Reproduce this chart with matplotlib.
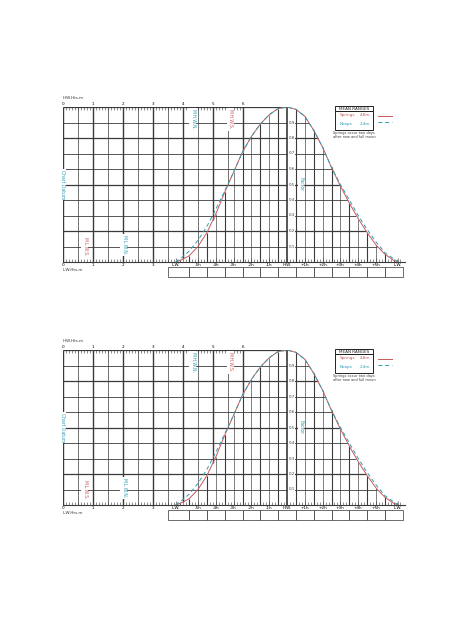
import matplotlib.pyplot as plt
import numpy as np
from matplotlib.patches import Rectangle

# tidal curve: factor of range against hours from high water
spring_t = [-6.25, -6, -5.5, -5, -4.5, -4, -3.5, -3, -2.5, -2, -1.5, -1, -0.5, 0,
            0.5, 1, 1.5, 2, 2.5, 3, 3.5, 4, 4.5, 5, 5.5, 6, 6.25]
spring_f = [0, 0.01, 0.04, 0.10, 0.19, 0.31, 0.45, 0.58, 0.71, 0.81, 0.89, 0.95, 0.99, 1.0,
            0.985, 0.94, 0.85, 0.74, 0.61, 0.49, 0.38, 0.28, 0.19, 0.11, 0.05, 0.01, 0]
neap_t = spring_t
neap_f = [0, 0.02, 0.07, 0.14, 0.23, 0.34, 0.46, 0.58, 0.71, 0.81, 0.89, 0.95, 0.99, 1.0,
          0.985, 0.94, 0.85, 0.74, 0.61, 0.50, 0.40, 0.30, 0.21, 0.13, 0.06, 0.02, 0]

hw_ticks = [0, 1, 2, 3, 4, 5, 6]
lw_ticks = [0, 1, 2, 3]
time_ticks = [-6.25, -5, -4, -3, -2, -1, 0, 1, 2, 3, 4, 5, 6.25]
time_labels = ['L.W.', '-5h', '-4h', '-3h', '-2h', '-1h', 'H.W.',
               '+1h', '+2h', '+3h', '+4h', '+5h', 'L.W.']
factor_levels = [0.1, 0.2, 0.3, 0.4, 0.5, 0.6, 0.7, 0.8, 0.9]
box_edges = [-6.7, -5.5, -4.5, -3.5, -2.5, -1.5, -0.5, 0.5, 1.5, 2.5, 3.5, 4.5, 5.5, 6.5]
range_names = ['Springs', 'Neaps']
range_values = ['4.8m', '2.4m']
mhws, mhwn = 5.57, 4.32
mlws, mlwn = 0.73, 2.03

W, H = 474, 632
X_MAX = 11.4          # metres shown across the frame
HW_M = 7.467          # where H.W. sits on the metre scale
M_PER_H = 0.5933      # metres of scale per hour

RED = '#c95b5b'
TEAL = '#2e9db3'
GRID = '#3a3a3a'
FS = 3


def h2m(t):
    return HW_M + M_PER_H * np.asarray(t)


def m2h(m):
    return (np.asarray(m) - HW_M) / M_PER_H


def draw_panel(fig, bottom_px):
    ax = fig.add_axes([63 / W, 1 - bottom_px / H, 342 / W, 155 / H])
    ax.set_xlim(0, X_MAX)
    ax.set_ylim(0, 1)
    ax.set_yticks([])
    for s in ['top', 'left', 'right']:
        ax.spines[s].set_visible(False)
    ax.spines['bottom'].set_linewidth(0.8)
    ax.spines['bottom'].set_color(GRID)

    ax_t = ax.twiny()
    ax_t.set_xlim(m2h(0), m2h(X_MAX))
    for s in ax_t.spines.values():
        s.set_visible(False)
    ax_t.xaxis.set_ticks_position('bottom')
    ax_t.xaxis.set_label_position('bottom')

    # L.W. heights scale (bottom left)
    ax.set_xticks(lw_ticks, [str(v) for v in lw_ticks])
    ax.set_xticks(np.arange(0, 3.65, 0.1), minor=True)
    ax.tick_params(axis='x', which='both', direction='in', labelsize=FS, pad=0.6,
                   color=GRID, width=0.4)
    ax.tick_params(axis='x', which='major', length=3.5)
    ax.tick_params(axis='x', which='minor', length=2)

    # time scale (bottom right)
    ax_t.set_xticks(time_ticks, time_labels)
    ax_t.set_xticks(np.arange(-38, 39) / 6.0, minor=True)
    ax_t.tick_params(axis='x', which='both', direction='in', labelsize=FS, pad=0.6,
                     color=GRID, width=0.4)
    ax_t.tick_params(axis='x', which='major', length=3)
    ax_t.tick_params(axis='x', which='minor', length=2)

    # H.W. heights scale (top)
    sec = ax.secondary_xaxis('top')
    sec.set_xticks(hw_ticks, [str(v) for v in hw_ticks])
    sec.set_xticks(np.arange(0, 6.01, 0.1), minor=True)
    sec.tick_params(axis='x', which='both', direction='in', labelsize=FS, pad=0.8,
                    color=GRID, width=0.4)
    sec.tick_params(axis='x', which='major', length=3.5)
    sec.tick_params(axis='x', which='minor', length=2)
    for s in sec.spines.values():
        s.set_visible(False)

    rise_t = np.array(spring_t[:14])
    rise_f = np.array(spring_f[:14])
    fall_t = np.array(spring_t[13:])[::-1]
    fall_f = np.array(spring_f[13:])[::-1]

    # height grid, stopped by the rising curve
    for m in np.arange(0, 6.01, 0.5):
        f0 = np.interp(m2h(m), rise_t, rise_f)
        major = float(m).is_integer()
        ax.vlines(m, f0, 1, color=GRID, lw=1.0 if major else 0.5, zorder=1)

    # factor lines, stopped by the falling curve
    for f in factor_levels + [1.0]:
        x_end = h2m(np.interp(f, fall_f, fall_t))
        strong = round(f * 10) in (2, 5, 8, 10)
        ax.hlines(f, 0, x_end, color=GRID, lw=0.9 if strong else 0.6, zorder=1)

    # half-hour lines under the curve
    for t in np.arange(-6, 6.01, 0.5):
        if t == 0:
            continue
        ftop = np.interp(t, spring_t, spring_f)
        on_hour = float(t).is_integer()
        ax_t.vlines(t, 0, ftop, color=GRID, lw=0.45 if on_hour else 0.8, zorder=1)
    ax_t.vlines(0, 0, 1, color=GRID, lw=1.2, zorder=1)

    # the curves
    sp, = ax_t.plot(spring_t, spring_f, color=RED, lw=0.7, zorder=3)
    np_, = ax_t.plot(neap_t, neap_f, color=TEAL, lw=0.7, ls=(0, (4, 3)), zorder=3)

    # boxes for writing times
    for a, b in zip(box_edges[:-1], box_edges[1:]):
        ax_t.add_patch(Rectangle((a, -0.097), b - a, 0.065, fill=False, ec='#555555',
                                 lw=0.6, clip_on=False))

    # factor labels along H.W.
    for f in factor_levels:
        ax_t.text(0.1, f, f'{f:.1f}', fontsize=2.8, color=GRID, ha='left', va='center',
                  bbox=dict(boxstyle='square,pad=0.1', fc='white', ec='none'), zorder=4)
    ax_t.text(0.8, 0.5, 'Factor', fontsize=3.3, color=TEAL, rotation=-90,
              ha='center', va='center', zorder=4,
              bbox=dict(boxstyle='square,pad=0.1', fc='white', ec='none'))

    lab = dict(fontsize=3.3, rotation=-90, ha='center', va='center', zorder=4,
               bbox=dict(boxstyle='square,pad=0.2', fc='white', ec='none'))
    ax.text(mhwn, 0.92, 'M.H.W.N.', color=TEAL, **lab)
    ax.text(mhws, 0.92, 'M.H.W.S.', color=RED, **lab)
    ax.text(mlws, 0.10, 'M.L.W.S.', color=RED, **lab)
    ax.text(mlwn, 0.11, 'M.L.W.N.', color=TEAL, **lab)
    ax.text(0, 0.5, 'Chart Datum', color=TEAL, **lab)

    ax.text(0, 1.055, 'H.W.Hts.m', fontsize=FS, color=GRID, ha='left', va='center',
            transform=ax.transAxes)
    ax.text(0, -0.05, 'L.W.Hts.m', fontsize=FS, color=GRID, ha='left', va='center',
            transform=ax.transAxes)

    # mean ranges box
    for y0, hh in [(0.974, 0.032), (0.852, 0.122)]:
        ax.add_patch(Rectangle((0.795, y0), 0.111, hh, fill=False, ec='#222222', lw=0.7,
                               transform=ax.transAxes, clip_on=False))
    ax.text(0.851, 0.990, 'MEAN RANGES', fontsize=FS, color='#222222', ha='center',
            va='center', transform=ax.transAxes)
    for name, val, y, c in zip(range_names, range_values, [0.948, 0.890], [RED, TEAL]):
        ax.text(0.808, y, name, fontsize=FS, color=c, ha='left', va='center',
                transform=ax.transAxes)
        ax.text(0.882, y, val, fontsize=FS, color=c, ha='center', va='center',
                transform=ax.transAxes)
    ax.text(0.851, 0.832, 'Springs occur two days', fontsize=2.5, color=GRID,
            ha='center', va='center', transform=ax.transAxes)
    ax.text(0.851, 0.806, 'after new and full moon', fontsize=2.5, color=GRID,
            ha='center', va='center', transform=ax.transAxes)
    ax_t.legend(handles=[sp, np_], labels=['', ''], frameon=False, loc='center',
                bbox_to_anchor=(0.941, 0.919), bbox_transform=ax.transAxes,
                handlelength=3.4, fontsize=FS, labelspacing=0.67, handletextpad=0,
                borderpad=0, borderaxespad=0)


fig = plt.figure(figsize=(W / 100, H / 100), dpi=100)
draw_panel(fig, 262)
draw_panel(fig, 505)
fig.savefig('out.png', dpi=100)
